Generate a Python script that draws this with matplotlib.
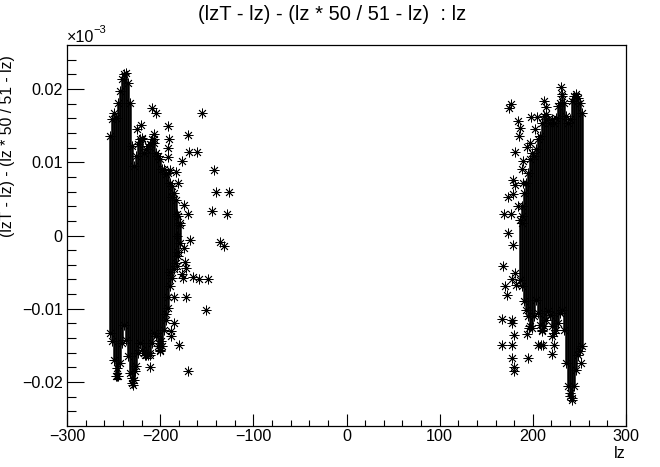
import matplotlib
matplotlib.use('Agg')
import matplotlib.pyplot as plt

plt.rcParams['font.family'] = ['Liberation Sans', 'DejaVu Sans']

# dense core of the scatter: column position, top and bottom of the solid part
left_x = [-253.8, -251.6, -249.5, -247.4, -245.2, -243.1, -240.9, -238.8, -236.6, -234.5, -232.3, -230.2,
          -228.1, -225.9, -223.8, -221.6, -219.5, -217.3, -215.2, -213, -210.9, -208.8, -206.6, -204.5,
          -202.3, -200.2, -198, -195.9, -193.7, -191.6, -189.5, -187.3, -185.2, -183, -180.9, -178.7]
left_top = [.01356, .01584, .01675, .01607, .01811, .0197, .0213, .02198, .02221, .02084, .01811, .01219,
            .00946, .01083, .01242, .01311, .01333, .01129, .01174, .01219, .01242, .01311, .01311, .01129,
            .01083, .01038, .00901, .00901, .00833, .00856, .00719, .00673, .00583, .00491, .00264, .00173]
left_bot = [-.01329, -.01443, -.01693, -.01921, -.01921, -.01738, -.01465, -.01215, -.0142, -.01648, -.01875, -.02011,
            -.01966, -.01784, -.01602, -.01465, -.01556, -.01602, -.01625, -.01625, -.01625, -.01465, -.01329, -.01374,
            -.01511, -.01579, -.01511, -.01283, -.01147, -.00987, -.00692, -.00578, -.00464, -.00373, -.00283, -.001]

right_x = [186.2, 188.3, 190.5, 192.6, 194.7, 196.9, 199, 201.2, 203.3, 205.5, 207.6, 209.8, 211.9, 214, 216.2, 218.3,
           220.5, 222.6, 224.8, 226.9, 229.1, 231.2, 233.4, 235.5, 237.6, 239.8, 241.9, 244.1, 246.2, 248.4, 250.5, 252.7]
right_top = [.00218, .004, .00583, .00719, .00856, .01038, .01129, .01083, .01174, .01311, .01356, .01538, .01629, .01652, .01584, .01538,
             .01584, .01538, .01607, .01766, .01811, .01902, .01811, .01629, .01538, .01584, .01834, .01902, .01902, .01879, .01811, .01675]
right_bot = [-.00601, -.00692, -.00897, -.0101, -.01101, -.01238, -.0126, -.01101, -.00874, -.01056, -.01215, -.01283, -.01238, -.01147, -.01033, -.01079,
             -.01238, -.01329, -.01283, -.01192, -.01056, -.0101, -.01283, -.01738, -.02057, -.02194, -.02239, -.02057, -.01829, -.01625, -.01579, -.01511]

# separate points around the core
left_px = [-208.4, -204.7, -154.7, -220.8, -224.4, -191.8, -206.9, -169.7, -190, -219.8, -206.2, -191.8, -169, -161,
           -191.2, -176.2, -202, -141.8, -183, -189.4, -180.5, -140, -125.8, -187.6, -174, -144, -127.9, -170.6,
           -181.5, -178.6, -182.2, -167.6, -135.4, -131, -174, -180.5, -173.3, -181.5, -172.5, -189.4, -176.9,
           -175.8, -164.4, -158, -148.3, -191.2, -184.7, -172.5, -150.4, -194, -185.4, -188, -188, -179.4, -199.4,
           -200, -210.8, -216.2, -210.5, -169.7, -228.8, -230.5, -246, -246.6, -227]
left_py = [.01743, .01675, .01675, .01506, .0145, .01497, .01392, .01374, .0132, .0132, .01265, .01197, .01143, .01143,
           .0107, .0102, .0108, .00897, .0087, .009, .0072, .00597, .00597, .00523, .00423, .00337, .00296, .00296,
           .00296, .0015, 0, -.00059, -.00086, -.00141, -.00177, -.00228, -.00359, -.00419, -.00441, -.00501, -.00532,
           -.00578, -.00564, -.00597, -.00597, -.00837, -.00837, -.00837, -.0101, -.01065, -.01192, -.01306, -.01375, -.01492, -.01443,
           -.01556, -.01601, -.01625, -.01792, -.01847, -.02034, -.01943, -.0192, -.01807, -.01852]

right_px = [230.5, 246.6, 231.5, 211.9, 176.9, 174.7, 213.7, 198.3, 204, 184.4, 186.2, 201.9, 185.4, 196.9, 193.3,
            181.1, 189, 188, 179, 180.8, 189.7, 179, 173, 184.4, 169, 176.2, 188, 188, 173.6, 179, 168.3, 180.8,
            170, 181.9, 171.9, 177.9, 166.5, 177.3, 177.9, 180, 166.8, 177.3, 193.3, 196.1, 177.9, 195.1, 180,
            180, 208.7, 205.8, 211.2, 209.4, 222.6, 220.8, 220.2, 251.3, 241.6, 239.8]
right_py = [.0203, .01925, .01925, .01833, .01798, .01743, .01752, .0162, .0162, .01556, .0147, .01457, .01356, .01265, .01211,
            .01143, .01014, .0091, .00764, .00696, .0071, .0056, .00523, .004, .00296, .00287, .00264, .00173, .00037, -.00123, -.0041, -.0051,
            -.00692, -.00669, -.00815, -.006, -.01138, -.01147, -.01201, -.01361, -.01497, -.01497, -.01342, -.0126, -.0167, -.0167, -.01793,
            -.01853, -.01488, -.01488, -.01488, -.01306, -.01497, -.01615, -.01375, -.01738, -.0222, -.0215]

xticks = [-300, -200, -100, 0, 100, 200, 300]
xlabels = ['\u2212300', '\u2212200', '\u2212100', '0', '100', '200', '300']
yticks = [-.02, -.01, 0, .01, .02]
ylabels = ['\u22120.02', '\u22120.01', '0', '0.01', '0.02']

fig = plt.figure(figsize=(6.6, 4.67), dpi=100)
ax = fig.add_axes([67 / 660, 1 - 426 / 467, 559 / 660, 381 / 467])

star = dict(ls='none', marker=(8, 2, 0), ms=7.0, mew=0.6, color='black')
ax.vlines(left_x, left_bot, left_top, color='black', lw=1.8)
ax.vlines(right_x, right_bot, right_top, color='black', lw=1.8)
ax.plot(left_x, left_top, **star)
ax.plot(left_x, left_bot, **star)
ax.plot(right_x, right_top, **star)
ax.plot(right_x, right_bot, **star)
ax.plot(left_px, left_py, **star)
ax.plot(right_px, right_py, **star)

ax.set_xlim(-300, 300)
ax.set_ylim(-.026, .026)
ax.set_xticks(xticks, xlabels)
ax.set_yticks(yticks, ylabels)
ax.set_xticks([t for t in range(-280, 300, 20) if t % 100 != 0], minor=True)
ax.set_yticks([i / 1000 for i in range(-24, 26, 2) if i % 10 != 0], minor=True)
ax.tick_params(axis='x', which='major', direction='in', length=8.6, width=0.8, labelsize=11.6, pad=2.5)
ax.tick_params(axis='x', which='minor', direction='in', length=4.3, width=0.8)
ax.tick_params(axis='y', which='major', direction='in', length=12.5, width=0.8, labelsize=11.6, pad=3)
ax.tick_params(axis='y', which='minor', direction='in', length=6.8, width=0.8)
for s in ax.spines.values():
    s.set_linewidth(0.9)

fig.text(332 / 660, 1 - 15 / 467, '(lzT - lz) - (lz * 50 / 51 - lz)  : lz', ha='center', va='center', fontsize=14.5)
fig.text(620 / 660, 1 - 454 / 467, 'lz', ha='center', va='center', fontsize=11.6)
fig.text(7.5 / 660, 1 - 146 / 467, '(lzT - lz) - (lz * 50 / 51 - lz)', rotation=90, ha='center', va='center', fontsize=11.3)
fig.text(67 / 660, 1 - 38 / 467, '\u00d710', ha='left', va='center', fontsize=11.6)
fig.text(93 / 660, 1 - 30 / 467, '\u22123', ha='left', va='center', fontsize=8)

fig.savefig('out.png', dpi=100)
